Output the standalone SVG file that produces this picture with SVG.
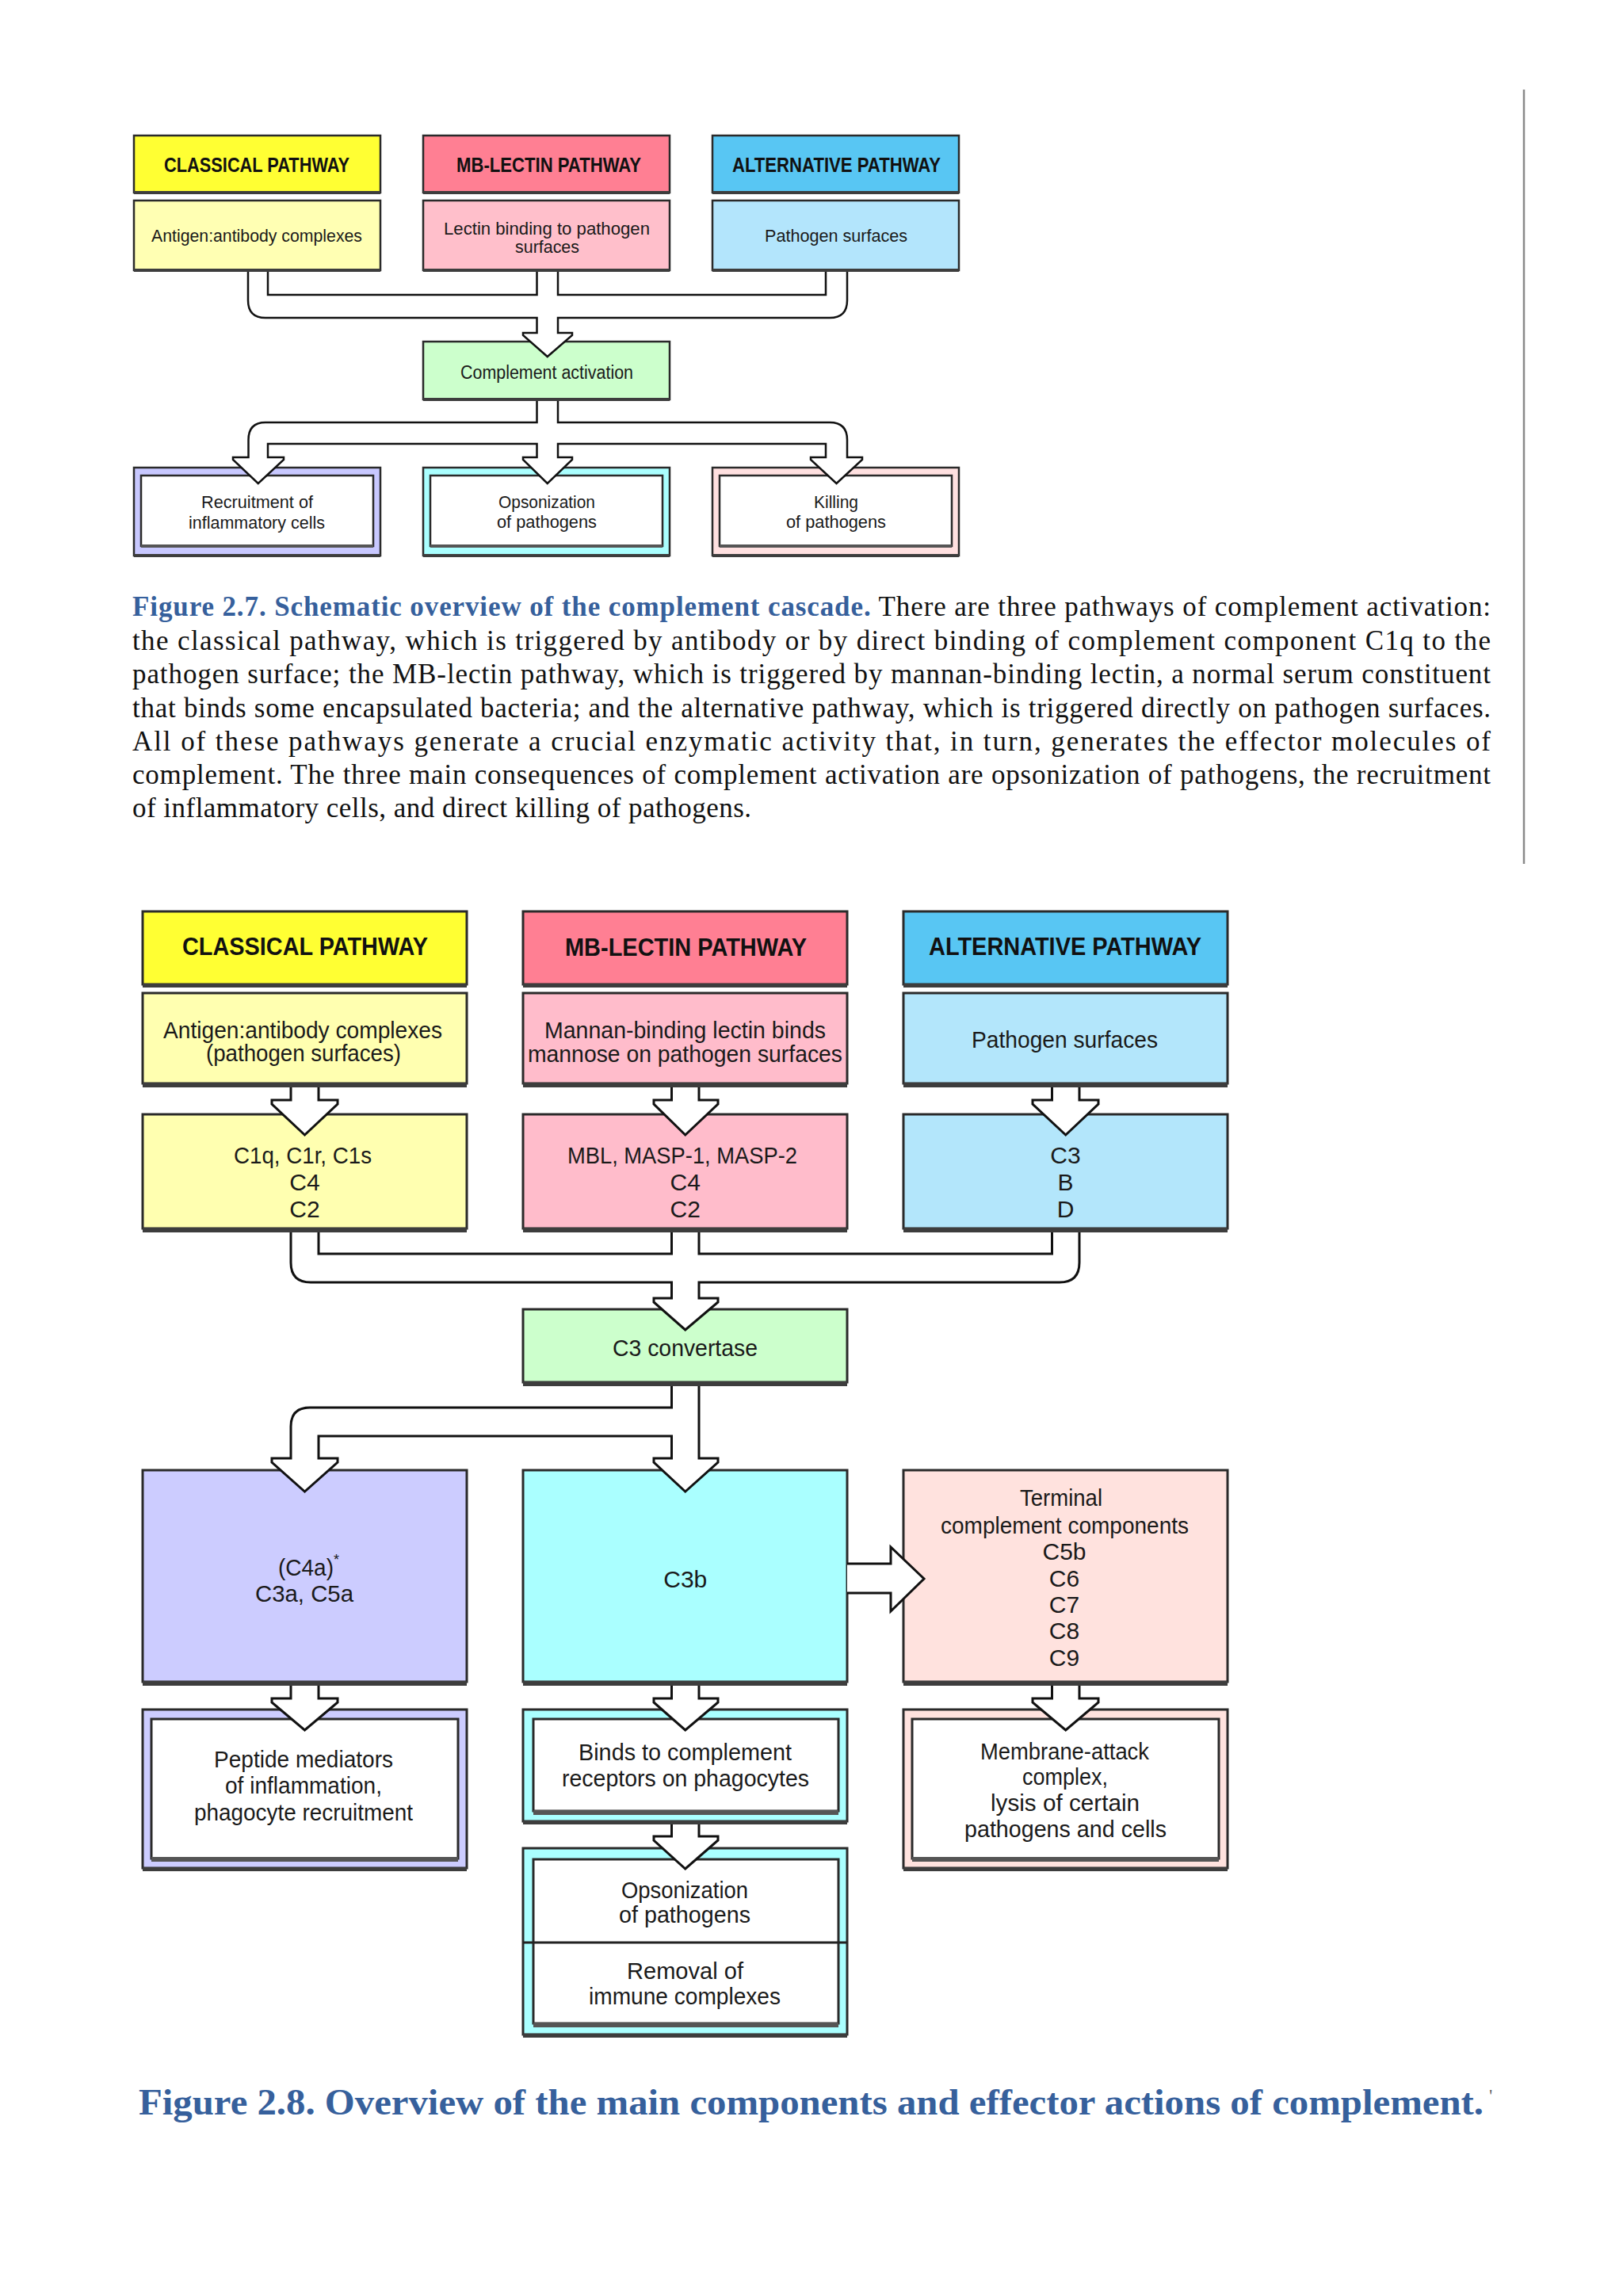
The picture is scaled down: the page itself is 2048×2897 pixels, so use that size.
<svg xmlns="http://www.w3.org/2000/svg" width="2048" height="2897" viewBox="0 0 2048 2897">
<style>
.s{font-family:"Liberation Sans",Arial,Helvetica,sans-serif;fill:#1a1a1a}
.h{font-weight:bold;fill:#111}
.m{text-anchor:middle}
.cap{font-family:"Liberation Serif","Times New Roman",serif;font-size:35px;fill:#111}
.blue{fill:#36609c;font-weight:bold}
.b{stroke:#2a2a2a;stroke-width:3}
.bt{stroke:#2a2a2a;stroke-width:2.5}
.sh{fill:#3d3d3d}
.shi{fill:#555}
.ln{fill:none;stroke:#111;stroke-width:3;stroke-linejoin:miter}
.lt{fill:none;stroke:#111;stroke-width:2.5;stroke-linejoin:miter}
.af{fill:#fff;stroke:#111;stroke-width:3;stroke-linejoin:miter}
.aft{fill:#fff;stroke:#111;stroke-width:2.5;stroke-linejoin:miter}
</style>
<rect width="2048" height="2897" fill="#fff"/>
<line x1="1923" y1="113" x2="1923" y2="1090" stroke="#8a8a8a" stroke-width="2.5"/>

<!-- ===== Figure 2.7 ===== -->
<g id="fig27-nodes">
<g id="t-classical-hdr"><rect x="169" y="171" width="311" height="72" fill="#ffff33" class="bt"/><rect class="sh" x="169" y="241" width="311" height="4"/><text class="s h" x="207" y="217" font-size="25" textLength="234" lengthAdjust="spacingAndGlyphs">CLASSICAL PATHWAY</text></g>
<g id="t-mblectin-hdr"><rect x="534" y="171" width="311" height="72" fill="#ff7f93" class="bt"/><rect class="sh" x="534" y="241" width="311" height="4"/><text class="s h" x="576" y="217" font-size="25" textLength="233" lengthAdjust="spacingAndGlyphs">MB-LECTIN PATHWAY</text></g>
<g id="t-alternative-hdr"><rect x="899" y="171" width="311" height="72" fill="#58c6f3" class="bt"/><rect class="sh" x="899" y="241" width="311" height="4"/><text class="s h" x="924" y="217" font-size="25" textLength="263" lengthAdjust="spacingAndGlyphs">ALTERNATIVE PATHWAY</text></g>
<g id="t-classical-trig"><rect x="169" y="253" width="311" height="88" fill="#ffffb3" class="bt"/><rect class="sh" x="169" y="339" width="311" height="4"/><text class="s" x="191" y="305" font-size="22" textLength="266" lengthAdjust="spacingAndGlyphs">Antigen:antibody complexes</text></g>
<g id="t-mblectin-trig"><rect x="534" y="253" width="311" height="88" fill="#ffbfcb" class="bt"/><rect class="sh" x="534" y="339" width="311" height="4"/><text class="s" x="560" y="296" font-size="22" textLength="260" lengthAdjust="spacingAndGlyphs">Lectin binding to pathogen</text><text class="s" x="650" y="319" font-size="22" textLength="81" lengthAdjust="spacingAndGlyphs">surfaces</text></g>
<g id="t-alternative-trig"><rect x="899" y="253" width="311" height="88" fill="#b3e5fc" class="bt"/><rect class="sh" x="899" y="339" width="311" height="4"/><text class="s" x="965" y="305" font-size="22" textLength="180" lengthAdjust="spacingAndGlyphs">Pathogen surfaces</text></g>
<g id="t-activation"><rect x="534" y="431" width="311" height="73" fill="#ccffcc" class="bt"/><rect class="sh" x="534" y="502" width="311" height="4"/><text class="s" x="581" y="478" font-size="23" textLength="218" lengthAdjust="spacingAndGlyphs">Complement activation</text></g>
<g id="t-recruitment"><rect x="169" y="590" width="311" height="111" fill="#c8c8ff" class="bt"/><rect class="sh" x="169" y="699" width="311" height="4"/><rect x="178" y="600" width="293" height="89" fill="#fff" class="bt"/><rect class="shi" x="178" y="687" width="293" height="4"/><text class="s" x="254" y="641" font-size="22" textLength="141" lengthAdjust="spacingAndGlyphs">Recruitment of</text><text class="s" x="238" y="667" font-size="22" textLength="172" lengthAdjust="spacingAndGlyphs">inflammatory cells</text></g>
<g id="t-opsonization"><rect x="534" y="590" width="311" height="111" fill="#aaffff" class="bt"/><rect class="sh" x="534" y="699" width="311" height="4"/><rect x="543" y="600" width="293" height="89" fill="#fff" class="bt"/><rect class="shi" x="543" y="687" width="293" height="4"/><text class="s" x="629" y="641" font-size="22" textLength="122" lengthAdjust="spacingAndGlyphs">Opsonization</text><text class="s" x="627" y="666" font-size="22" textLength="126" lengthAdjust="spacingAndGlyphs">of pathogens</text></g>
<g id="t-killing"><rect x="899" y="590" width="311" height="111" fill="#ffe0e0" class="bt"/><rect class="sh" x="899" y="699" width="311" height="4"/><rect x="908" y="600" width="293" height="89" fill="#fff" class="bt"/><rect class="shi" x="908" y="687" width="293" height="4"/><text class="s" x="1027" y="641" font-size="22" textLength="56" lengthAdjust="spacingAndGlyphs">Killing</text><text class="s" x="992" y="666" font-size="22" textLength="126" lengthAdjust="spacingAndGlyphs">of pathogens</text></g>
</g>
<g id="fig27-connectors">
<path class="aft" d="M313,343 V379 Q313,401 335,401 H677.5 V420 H660 V423 L690.75,450 L722,423 V420 H704 V401 H1047 Q1069,401 1069,379 V343"/>
<path class="lt" d="M338,343 V372 H677.5 V343 M704,343 V372 H1042 V343"/>
<path class="aft" d="M677.5,506 V533 H335 Q313.5,533 313.5,555 V577 H294 V580 L325.75,610 L358,580 V577 H338 V560 H677.5 V577 H660 V580 L690.75,610 L722,580 V577 H704 V560 H1042 V577 H1023 V580 L1055.5,610 L1088,580 V577 H1069 V555 Q1069,533 1047,533 H704 V506"/>
</g>

<g id="caption27">
<text class="cap" x="167" y="777" textLength="1714" lengthAdjust="spacing"><tspan class="blue">Figure 2.7. Schematic overview of the complement cascade.</tspan> There are three pathways of complement activation:</text>
<text class="cap" x="167" y="820" textLength="1714" lengthAdjust="spacing">the classical pathway, which is triggered by antibody or by direct binding of complement component C1q to the</text>
<text class="cap" x="167" y="862" textLength="1714" lengthAdjust="spacing">pathogen surface; the MB-lectin pathway, which is triggered by mannan-binding lectin, a normal serum constituent</text>
<text class="cap" x="167" y="905" textLength="1714" lengthAdjust="spacing">that binds some encapsulated bacteria; and the alternative pathway, which is triggered directly on pathogen surfaces.</text>
<text class="cap" x="167" y="947" textLength="1714" lengthAdjust="spacing">All of these pathways generate a crucial enzymatic activity that, in turn, generates the effector molecules of</text>
<text class="cap" x="167" y="989" textLength="1714" lengthAdjust="spacing">complement. The three main consequences of complement activation are opsonization of pathogens, the recruitment</text>
<text class="cap" x="167" y="1031" textLength="781" lengthAdjust="spacing">of inflammatory cells, and direct killing of pathogens.</text>
</g>

<!-- ===== Figure 2.8 ===== -->
<g id="fig28-nodes">
<g id="classical-hdr"><rect x="180" y="1150" width="409" height="92" fill="#ffff33" class="b"/><rect class="sh" x="180" y="1241" width="409" height="5"/><text class="s h" x="230" y="1205" font-size="31" textLength="310" lengthAdjust="spacingAndGlyphs">CLASSICAL PATHWAY</text></g>
<g id="mblectin-hdr"><rect x="660" y="1150" width="409" height="92" fill="#ff7f93" class="b"/><rect class="sh" x="660" y="1241" width="409" height="5"/><text class="s h" x="713" y="1206" font-size="31" textLength="305" lengthAdjust="spacingAndGlyphs">MB-LECTIN PATHWAY</text></g>
<g id="alternative-hdr"><rect x="1140" y="1150" width="409" height="92" fill="#58c6f3" class="b"/><rect class="sh" x="1140" y="1241" width="409" height="5"/><text class="s h" x="1172" y="1205" font-size="31" textLength="344" lengthAdjust="spacingAndGlyphs">ALTERNATIVE PATHWAY</text></g>

<g id="classical-trig"><rect x="180" y="1253" width="409" height="114" fill="#ffffb0" class="b"/><rect class="sh" x="180" y="1366" width="409" height="6"/><text class="s" x="206" y="1310" font-size="30" textLength="352" lengthAdjust="spacingAndGlyphs">Antigen:antibody complexes</text><text class="s" x="260" y="1339" font-size="30" textLength="246" lengthAdjust="spacingAndGlyphs">(pathogen surfaces)</text></g>
<g id="mblectin-trig"><rect x="660" y="1253" width="409" height="114" fill="#ffbccb" class="b"/><rect class="sh" x="660" y="1366" width="409" height="6"/><text class="s" x="687" y="1310" font-size="30" textLength="355" lengthAdjust="spacingAndGlyphs">Mannan-binding lectin binds</text><text class="s" x="666" y="1340" font-size="30" textLength="397" lengthAdjust="spacingAndGlyphs">mannose on pathogen surfaces</text></g>
<g id="alternative-trig"><rect x="1140" y="1253" width="409" height="114" fill="#b3e6fb" class="b"/><rect class="sh" x="1140" y="1366" width="409" height="6"/><text class="s" x="1226" y="1322" font-size="30" textLength="235" lengthAdjust="spacingAndGlyphs">Pathogen surfaces</text></g>

<g id="classical-comp"><rect x="180" y="1406" width="409" height="144" fill="#ffffb0" class="b"/><rect class="sh" x="180" y="1549" width="409" height="6"/><text class="s" x="295" y="1468" font-size="30" textLength="174" lengthAdjust="spacingAndGlyphs">C1q, C1r, C1s</text><text class="s m" x="384.5" y="1502" font-size="30">C4</text><text class="s m" x="384.5" y="1536" font-size="30">C2</text></g>
<g id="mblectin-comp"><rect x="660" y="1406" width="409" height="144" fill="#ffbccb" class="b"/><rect class="sh" x="660" y="1549" width="409" height="6"/><text class="s" x="716" y="1468" font-size="30" textLength="290" lengthAdjust="spacingAndGlyphs">MBL, MASP-1, MASP-2</text><text class="s m" x="864.75" y="1502" font-size="30">C4</text><text class="s m" x="864.75" y="1536" font-size="30">C2</text></g>
<g id="alternative-comp"><rect x="1140" y="1406" width="409" height="144" fill="#b3e6fb" class="b"/><rect class="sh" x="1140" y="1549" width="409" height="6"/><text class="s m" x="1344.5" y="1468" font-size="30">C3</text><text class="s m" x="1344.5" y="1502" font-size="30">B</text><text class="s m" x="1344.5" y="1536" font-size="30">D</text></g>

<g id="c3-convertase"><rect x="660" y="1652" width="409" height="92" fill="#ccffcc" class="b"/><rect class="sh" x="660" y="1743" width="409" height="6"/><text class="s" x="773" y="1711" font-size="30" textLength="183" lengthAdjust="spacingAndGlyphs">C3 convertase</text></g>

<g id="c3a-c5a"><rect x="180" y="1855" width="409" height="267" fill="#ccccff" class="b"/><rect class="sh" x="180" y="2121" width="409" height="6"/><text class="s" x="351" y="1988" font-size="30" textLength="70" lengthAdjust="spacingAndGlyphs">(C4a)</text><text class="s" x="421" y="1974" font-size="18">*</text><text class="s" x="322" y="2021" font-size="30" textLength="124" lengthAdjust="spacingAndGlyphs">C3a, C5a</text></g>
<g id="c3b"><rect x="660" y="1855" width="409" height="267" fill="#aaffff" class="b"/><rect class="sh" x="660" y="2121" width="409" height="6"/><text class="s m" x="864.75" y="2003" font-size="30">C3b</text></g>
<g id="terminal"><rect x="1140" y="1855" width="409" height="267" fill="#ffe2de" class="b"/><rect class="sh" x="1140" y="2121" width="409" height="6"/><text class="s" x="1287" y="1900" font-size="30" textLength="104" lengthAdjust="spacingAndGlyphs">Terminal</text><text class="s" x="1187" y="1935" font-size="30" textLength="313" lengthAdjust="spacingAndGlyphs">complement components</text><text class="s m" x="1343" y="1968" font-size="30">C5b</text><text class="s m" x="1343" y="2002" font-size="30">C6</text><text class="s m" x="1343" y="2035" font-size="30">C7</text><text class="s m" x="1343" y="2068" font-size="30">C8</text><text class="s m" x="1343" y="2102" font-size="30">C9</text></g>

<g id="peptide-mediators"><rect x="180" y="2157" width="409" height="200" fill="#ccccff" class="b"/><rect class="sh" x="180" y="2356" width="409" height="5"/><rect x="191" y="2169" width="387" height="176" fill="#fff" class="b"/><rect class="shi" x="191" y="2343" width="387" height="6"/><text class="s" x="270" y="2230" font-size="30" textLength="226" lengthAdjust="spacingAndGlyphs">Peptide mediators</text><text class="s" x="284" y="2263" font-size="30" textLength="198" lengthAdjust="spacingAndGlyphs">of inflammation,</text><text class="s" x="245" y="2297" font-size="30" textLength="276" lengthAdjust="spacingAndGlyphs">phagocyte recruitment</text></g>
<g id="binds-receptors"><rect x="660" y="2157" width="409" height="141" fill="#aaffff" class="b"/><rect class="sh" x="660" y="2297" width="409" height="5"/><rect x="673" y="2169" width="385" height="116" fill="#fff" class="b"/><rect class="shi" x="673" y="2284" width="385" height="6"/><text class="s" x="730" y="2221" font-size="30" textLength="269" lengthAdjust="spacingAndGlyphs">Binds to complement</text><text class="s" x="709" y="2254" font-size="30" textLength="312" lengthAdjust="spacingAndGlyphs">receptors on phagocytes</text></g>
<g id="opsonization-removal"><rect x="660" y="2332" width="409" height="235" fill="#aaffff" class="b"/><rect class="sh" x="660" y="2566" width="409" height="5"/><rect x="673" y="2346" width="385" height="207" fill="#fff" class="b"/><rect class="shi" x="673" y="2552" width="385" height="6"/><line x1="660" y1="2451" x2="1069" y2="2451" stroke="#222" stroke-width="3"/><text class="s" x="784" y="2395" font-size="30" textLength="160" lengthAdjust="spacingAndGlyphs">Opsonization</text><text class="s" x="781" y="2426" font-size="30" textLength="166" lengthAdjust="spacingAndGlyphs">of pathogens</text><text class="s" x="791" y="2497" font-size="30" textLength="147" lengthAdjust="spacingAndGlyphs">Removal of</text><text class="s" x="743" y="2529" font-size="30" textLength="242" lengthAdjust="spacingAndGlyphs">immune complexes</text></g>
<g id="membrane-attack"><rect x="1140" y="2157" width="409" height="200" fill="#ffe2de" class="b"/><rect class="sh" x="1140" y="2356" width="409" height="5"/><rect x="1151" y="2169" width="387" height="176" fill="#fff" class="b"/><rect class="shi" x="1151" y="2343" width="387" height="6"/><text class="s" x="1237" y="2220" font-size="30" textLength="213" lengthAdjust="spacingAndGlyphs">Membrane-attack</text><text class="s" x="1290" y="2252" font-size="30" textLength="108" lengthAdjust="spacingAndGlyphs">complex,</text><text class="s" x="1250" y="2285" font-size="30" textLength="188" lengthAdjust="spacingAndGlyphs">lysis of certain</text><text class="s" x="1217" y="2318" font-size="30" textLength="255" lengthAdjust="spacingAndGlyphs">pathogens and cells</text></g>
</g>

<g id="fig28-connectors">
<path class="af" d="M367,1372 V1388 H343 V1393 L384.5,1432 L426,1393 V1388 H402 V1372"/>
<path class="af" d="M847.5,1372 V1388 H825 V1393 L864.75,1432 L906,1393 V1388 H882 V1372"/>
<path class="af" d="M1327.5,1372 V1388 H1303 V1393 L1344.75,1432 L1386,1393 V1388 H1362 V1372"/>
<path class="af" d="M367,1555 V1593 Q367,1618 392,1618 H847.5 V1638 H825 V1643 L864.75,1678 L906,1643 V1638 H882 V1618 H1337 Q1362,1618 1362,1593 V1555"/>
<path class="ln" d="M402,1555 V1582 H847.5 V1555 M882,1555 V1582 H1327.5 V1555"/>
<path class="af" d="M847.5,1749 V1776 H391 Q367,1776 367,1800 V1840 H343 V1845 L384.5,1882 L426,1845 V1840 H402 V1812 H847.5 V1840 H825 V1845 L864.75,1882 L906,1845 V1840 H882 V1749"/>
<path class="af" d="M1069,1973 H1124 V1952 L1166,1992 L1124,2033 V2010 H1069"/>
<path class="af" d="M367,2127 V2143 H343 V2148 L384.5,2183 L426,2148 V2143 H402 V2127"/>
<path class="af" d="M847.5,2127 V2143 H825 V2148 L864.75,2183 L906,2148 V2143 H882 V2127"/>
<path class="af" d="M1327.5,2127 V2143 H1303 V2148 L1344.75,2183 L1386,2148 V2143 H1362 V2127"/>
<path class="af" d="M847.5,2302 V2317 H825 V2322 L864.75,2358 L906,2322 V2317 H882 V2302"/>
</g>

<g id="caption28">
<text x="175" y="2668" font-family="'Liberation Serif','Times New Roman',serif" font-size="46" font-weight="bold" fill="#36609c" textLength="1697" lengthAdjust="spacingAndGlyphs">Figure 2.8. Overview of the main components and effector actions of complement.</text>
<text x="1879" y="2652" font-family="'Liberation Serif','Times New Roman',serif" font-size="24" fill="#666">'</text>
</g>
</svg>
